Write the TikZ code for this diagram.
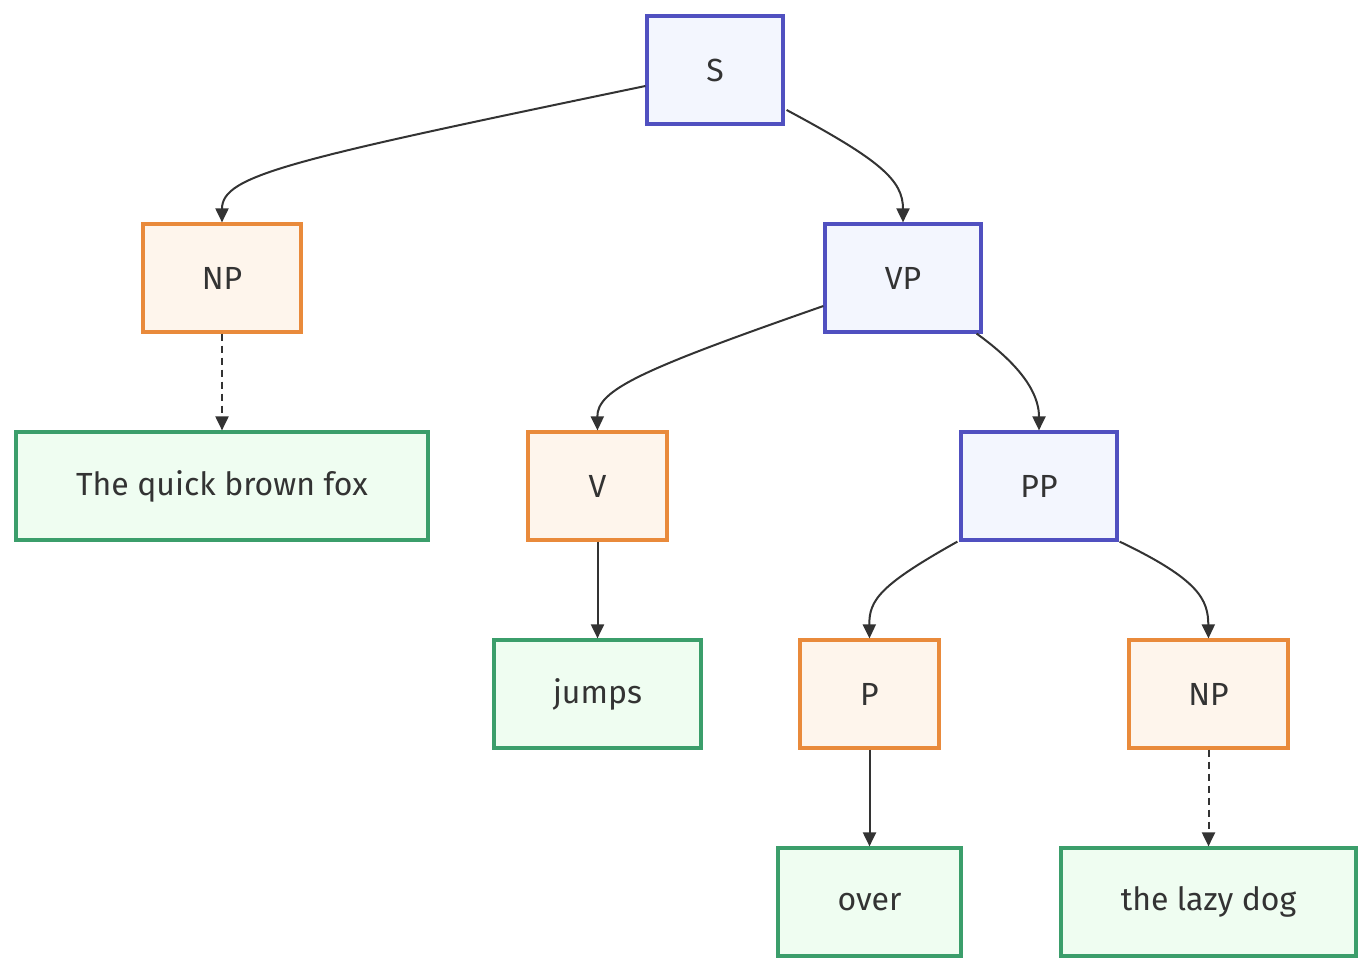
\documentclass[tikz,border=0pt]{standalone}
\usepackage{fontspec}
\setmainfont{Fira Sans}
\usetikzlibrary{arrows.meta}
\definecolor{bluebd}{HTML}{5050C0}
\definecolor{bluefl}{HTML}{F3F6FE}
\definecolor{orgbd}{HTML}{E98A3B}
\definecolor{orgfl}{HTML}{FEF5EC}
\definecolor{grnbd}{HTML}{3B9E6B}
\definecolor{grnfl}{HTML}{EFFDF1}
\definecolor{ink}{HTML}{333333}
\tikzset{
  box/.style={draw, line width=3.2pt, inner sep=0pt, minimum height=108pt, font=\fontsize{32}{38}\selectfont, text=ink},
  phrase/.style={box, draw=bluebd, fill=bluefl},
  cat/.style={box, draw=orgbd, fill=orgfl},
  word/.style={box, draw=grnbd, fill=grnfl},
  edge/.style={draw=ink, line width=2pt, -{Triangle[length=14pt,width=13pt]}},
  dashedge/.style={edge, dash pattern=on 7pt off 5pt},
}
\begin{document}
\begin{tikzpicture}[x=1pt,y=-1pt]
\useasboundingbox (0,0) rectangle (1372,972);
\node[phrase, minimum width=136pt] (S) at (715,70) {S};
\node[cat, minimum width=158pt] (NP1) at (222,278) {NP};
\node[phrase, minimum width=156pt] (VP) at (903,278) {VP};
\node[word, minimum width=412pt] (fox) at (222,486) {The quick brown fox};
\node[cat, minimum width=139pt] (V) at (597.5,486) {V};
\node[phrase, minimum width=156pt] (PP) at (1039,486) {PP};
\node[word, minimum width=207pt] (jumps) at (597.5,694) {jumps};
\node[cat, minimum width=139pt] (P) at (869.5,694) {P};
\node[cat, minimum width=159pt] (NP2) at (1208.5,694) {NP};
\node[word, minimum width=183pt] (over) at (869.5,902) {over};
\node[word, minimum width=295pt] (dog) at (1208.5,902) {the lazy dog};

\path[edge] ([yshift=-16pt]S.west) .. controls (290,160) and (222,175) .. (NP1.north);
\path[edge] ([xshift=2pt,yshift=-40pt]S.east) .. controls (880,160) and (903,180) .. (VP.north);
\path[dashedge] (NP1.south) -- (fox.north);
\path[edge] ([yshift=-28pt]VP.west) .. controls (640,370) and (597,390) .. (V.north);
\path[edge] ([xshift=-6pt]VP.south east) .. controls (1030,372) and (1039,400) .. (PP.north);
\path[edge] (V.south) -- (jumps.north);
\path[edge] ([xshift=-2pt]PP.south west) .. controls (880,585) and (869,600) .. (P.north);
\path[edge] ([xshift=1pt]PP.south east) .. controls (1200,580) and (1208,600) .. (NP2.north);
\path[edge] (P.south) -- (over.north);
\path[dashedge] (NP2.south) -- (dog.north);
\end{tikzpicture}
\end{document}
